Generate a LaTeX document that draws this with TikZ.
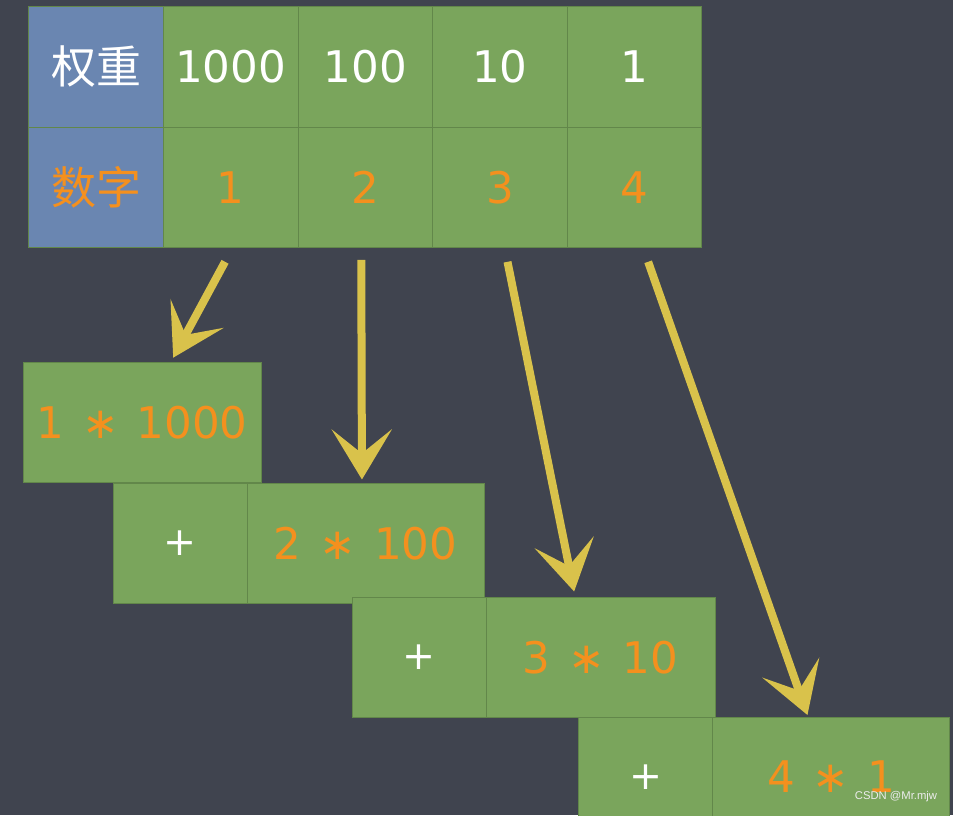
\documentclass[tikz,border=0pt]{standalone}
\usepackage{fontspec}
\usepackage{xcolor}
\usepackage{tikz}
\usetikzlibrary{positioning}
\usetikzlibrary{arrows.meta}
\setmainfont{DejaVu Sans}
\newfontfamily\cjk{Noto Sans CJK SC}
\newfontfamily\chalk[WordSpace=1.3]{DejaVu Sans}
\newfontfamily\markfont{Liberation Sans}
\definecolor{board}{HTML}{40444F}
\definecolor{cellgreen}{HTML}{7AA55C}
\definecolor{cellline}{HTML}{62874A}
\definecolor{cellblue}{HTML}{6A86B1}
\definecolor{numorange}{HTML}{F4901E}
\definecolor{chalkyellow}{HTML}{D9C24B}
\tikzset{
  cell/.style={rectangle,draw=cellline,line width=0.6pt,fill=cellgreen,
    minimum width=3.365cm,minimum height=3.0125cm,inner sep=0pt,outer sep=0pt,
    font=\chalk\fontsize{31}{36}\selectfont},
  head/.style={cell,fill=cellblue,font=\cjk\fontsize{32}{38}\selectfont},
  sum node/.style={cell,text=numorange,minimum width=5.925cm,minimum height=3cm,
    font=\chalk\fontsize{31}{36}\selectfont},
  plus node/.style={cell,text=white,minimum width=3.35cm,minimum height=3cm,
    font=\chalk\fontsize{28}{36}\selectfont},
  chalk line/.style={draw=chalkyellow,line width=0.2cm,line join=round}
}
\begin{document}
\begin{tikzpicture}[x=0.025cm,y=-0.025cm,
    >={Stealth[length=1.25cm,width=1.5cm,inset=0.6cm]}]
  \useasboundingbox (0,0) rectangle (953,815);
  \fill[board] (0,0) rectangle (953,815);
  % weights
  \node[head,text=white] (w0) at (96,67) {权重};
  \node[cell,text=white,right=0pt of w0] (w1) {1000};
  \node[cell,text=white,right=0pt of w1] (w2) {100};
  \node[cell,text=white,right=0pt of w2] (w3) {10};
  \node[cell,text=white,right=0pt of w3] (w4) {1};
  % digits
  \node[head,text=numorange,below=0pt of w0] (d0) {数字};
  \node[cell,text=numorange,right=0pt of d0] (d1) {1};
  \node[cell,text=numorange,right=0pt of d1] (d2) {2};
  \node[cell,text=numorange,right=0pt of d2] (d3) {3};
  \node[cell,text=numorange,right=0pt of d3] (d4) {4};
  % products
  \node[sum node,minimum width=5.95cm] (p1) at (142,422.5) {1 ∗ 1000};
  \node[plus node] (s2) at (180,543.5) {+};
  \node[sum node,right=0pt of s2] (p2) {2 ∗ 100};
  \node[plus node] (s3) at (419,657.5) {+};
  \node[sum node,minimum width=5.725cm,right=0pt of s3] (p3) {3 ∗ 10};
  \node[plus node] (s4) at (645.5,777) {+};
  \node[sum node,right=0pt of s4] (p4) {4 ∗ 1};
  % arrows
  \draw[chalk line,->] ([xshift=-0.14cm,yshift=-0.35cm]d1.south) -- ([xshift=0.78cm,yshift=0.12cm]p1.north);
  \draw[chalk line,->] ([xshift=-0.1cm,yshift=-0.3cm]d2.south) -- ([xshift=-0.09cm,yshift=0.1cm]p2.north);
  \draw[chalk line,->] ([xshift=0.19cm,yshift=-0.35cm]d3.south) -- ([xshift=-0.66cm,yshift=0.15cm]p3.north);
  \draw[chalk line,->] ([xshift=0.34cm,yshift=-0.35cm]d4.south) -- ([xshift=-0.59cm,yshift=0.05cm]p4.north);
  \node[font=\markfont\fontsize{8}{10}\selectfont,text=white!85!gray] (mark) at (896,797) {CSDN @Mr.mjw};
\end{tikzpicture}
\end{document}
